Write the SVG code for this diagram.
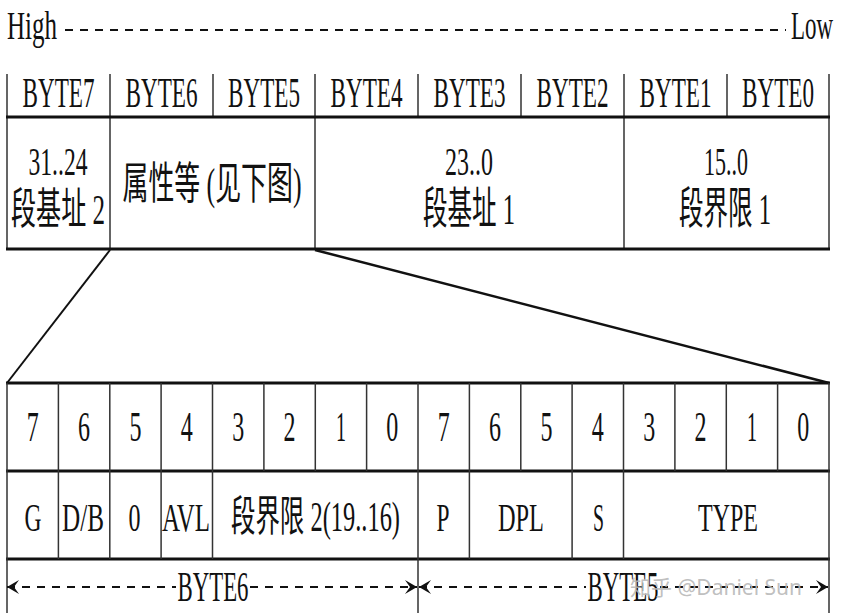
<svg xmlns="http://www.w3.org/2000/svg" width="842" height="616" viewBox="0 0 842 616">
<style>
.t{font-family:"Liberation Serif","Noto Sans CJK SC",serif;fill:#111;text-anchor:middle}
.l{text-anchor:start}
.v{stroke:#333;stroke-width:1.5;fill:none}
.b{stroke:#111;stroke-width:3;fill:none}
.d{stroke:#111;stroke-width:2;stroke-dasharray:8 7;fill:none}
.wm{font-family:"Noto Sans","Noto Sans CJK SC",sans-serif;font-size:21px;fill:#b8b8b8;fill-opacity:0.9}
</style>
<defs>
<marker id="ah" viewBox="-13 -8 14 16" refX="0" refY="0" markerWidth="14" markerHeight="16" markerUnits="userSpaceOnUse" orient="auto-start-reverse">
<path d="M0,0 L-12,-7 L-7,0 L-12,7 Z" fill="#111"/>
</marker>
</defs>
<rect width="842" height="616" fill="#fff"/>

<g id="direction">
<text class="t l" x="7" y="39" font-size="40" textLength="50" lengthAdjust="spacingAndGlyphs">High</text>
<text class="t l" x="791" y="39" font-size="40" textLength="42" lengthAdjust="spacingAndGlyphs">Low</text>
<line class="d" x1="65" y1="30" x2="786" y2="30"/>
</g>

<g id="descriptor-header">
<path class="v" d="M7,74V117 M110,74V117 M213,74V117 M315,74V117 M418,74V117 M521,74V117 M624,74V117 M727,74V117 M829,74V117"/>
<text class="t" x="58.5" y="107" font-size="42" textLength="72" lengthAdjust="spacingAndGlyphs">BYTE7</text>
<text class="t" x="161.5" y="107" font-size="42" textLength="72" lengthAdjust="spacingAndGlyphs">BYTE6</text>
<text class="t" x="264" y="107" font-size="42" textLength="72" lengthAdjust="spacingAndGlyphs">BYTE5</text>
<text class="t" x="366.5" y="107" font-size="42" textLength="72" lengthAdjust="spacingAndGlyphs">BYTE4</text>
<text class="t" x="469.5" y="107" font-size="42" textLength="72" lengthAdjust="spacingAndGlyphs">BYTE3</text>
<text class="t" x="572.5" y="107" font-size="42" textLength="72" lengthAdjust="spacingAndGlyphs">BYTE2</text>
<text class="t" x="675.5" y="107" font-size="42" textLength="72" lengthAdjust="spacingAndGlyphs">BYTE1</text>
<text class="t" x="778" y="107" font-size="42" textLength="72" lengthAdjust="spacingAndGlyphs">BYTE0</text>
</g>

<g id="descriptor-fields">
<path class="v" d="M7,117V249 M110,117V249 M315,117V249 M624,117V249 M829,117V249"/>
<line class="b" x1="6" y1="117" x2="830" y2="117"/>
<line class="b" x1="6" y1="249" x2="830" y2="249"/>
<text class="t" x="58" y="175" font-size="39" textLength="59" lengthAdjust="spacingAndGlyphs">31..24</text>
<text class="t" x="58" y="224" font-size="43" textLength="94" lengthAdjust="spacingAndGlyphs">段基址 2</text>
<text class="t" x="212" y="199" font-size="44" textLength="179" lengthAdjust="spacingAndGlyphs">属性等 (见下图)</text>
<text class="t" x="469" y="175" font-size="41" textLength="48" lengthAdjust="spacingAndGlyphs">23..0</text>
<text class="t" x="469" y="224" font-size="44" textLength="92" lengthAdjust="spacingAndGlyphs">段基址 1</text>
<text class="t" x="726" y="175" font-size="41" textLength="44" lengthAdjust="spacingAndGlyphs">15..0</text>
<text class="t" x="725" y="224" font-size="44" textLength="92" lengthAdjust="spacingAndGlyphs">段界限 1</text>
</g>

<g id="connectors">
<line x1="110" y1="250" x2="7" y2="383" stroke="#111" stroke-width="2"/>
<line x1="315" y1="250" x2="829" y2="383" stroke="#111" stroke-width="2.5"/>
</g>

<g id="attribute-bits">
<line class="b" x1="6" y1="383" x2="830" y2="383"/>
<line class="b" x1="6" y1="471" x2="830" y2="471"/>
<path class="v" d="M7,383V471 M58.4,383V471 M109.8,383V471 M161.1,383V471 M212.5,383V471 M263.9,383V471 M315.3,383V471 M366.6,383V471 M418,383V471 M469.4,383V471 M520.8,383V471 M572.1,383V471 M623.5,383V471 M674.9,383V471 M726.3,383V471 M777.6,383V471 M829,383V471"/>
<text class="t" x="32.7" y="441" font-size="43" textLength="12" lengthAdjust="spacingAndGlyphs">7</text>
<text class="t" x="84.1" y="441" font-size="43" textLength="12" lengthAdjust="spacingAndGlyphs">6</text>
<text class="t" x="135.4" y="441" font-size="43" textLength="12" lengthAdjust="spacingAndGlyphs">5</text>
<text class="t" x="186.8" y="441" font-size="43" textLength="12" lengthAdjust="spacingAndGlyphs">4</text>
<text class="t" x="238.2" y="441" font-size="43" textLength="12" lengthAdjust="spacingAndGlyphs">3</text>
<text class="t" x="289.6" y="441" font-size="43" textLength="12" lengthAdjust="spacingAndGlyphs">2</text>
<text class="t" x="341" y="441" font-size="43" textLength="10" lengthAdjust="spacingAndGlyphs">1</text>
<text class="t" x="392.3" y="441" font-size="43" textLength="12" lengthAdjust="spacingAndGlyphs">0</text>
<text class="t" x="443.7" y="441" font-size="43" textLength="12" lengthAdjust="spacingAndGlyphs">7</text>
<text class="t" x="495" y="441" font-size="43" textLength="12" lengthAdjust="spacingAndGlyphs">6</text>
<text class="t" x="546.4" y="441" font-size="43" textLength="12" lengthAdjust="spacingAndGlyphs">5</text>
<text class="t" x="597.8" y="441" font-size="43" textLength="12" lengthAdjust="spacingAndGlyphs">4</text>
<text class="t" x="649.2" y="441" font-size="43" textLength="12" lengthAdjust="spacingAndGlyphs">3</text>
<text class="t" x="700.6" y="441" font-size="43" textLength="12" lengthAdjust="spacingAndGlyphs">2</text>
<text class="t" x="752" y="441" font-size="43" textLength="10" lengthAdjust="spacingAndGlyphs">1</text>
<text class="t" x="803.3" y="441" font-size="43" textLength="12" lengthAdjust="spacingAndGlyphs">0</text>
</g>

<g id="attribute-fields">
<line class="b" x1="6" y1="559" x2="830" y2="559"/>
<path class="v" d="M7,471V613 M58.4,471V559 M109.8,471V559 M161.1,471V559 M212.5,471V559 M418,471V613 M469.4,471V559 M572.1,471V559 M623.5,471V559 M829,471V613"/>
<text class="t" x="33" y="531" font-size="41" textLength="17" lengthAdjust="spacingAndGlyphs">G</text>
<text class="t" x="83" y="531" font-size="41" textLength="42" lengthAdjust="spacingAndGlyphs">D/B</text>
<text class="t" x="134.5" y="531" font-size="41" textLength="12" lengthAdjust="spacingAndGlyphs">0</text>
<text class="t" x="186" y="531" font-size="41" textLength="48" lengthAdjust="spacingAndGlyphs">AVL</text>
<text class="t" x="315.5" y="531" font-size="42" textLength="169" lengthAdjust="spacingAndGlyphs">段界限 2(19..16)</text>
<text class="t" x="443" y="531" font-size="41" textLength="13" lengthAdjust="spacingAndGlyphs">P</text>
<text class="t" x="521" y="531" font-size="41" textLength="46" lengthAdjust="spacingAndGlyphs">DPL</text>
<text class="t" x="598.5" y="531" font-size="41" textLength="11" lengthAdjust="spacingAndGlyphs">S</text>
<text class="t" x="728" y="531" font-size="41" textLength="60" lengthAdjust="spacingAndGlyphs">TYPE</text>
</g>

<g id="byte-spans">
<path class="d" d="M7,587H176 M250,587H417" marker-start="url(#ah)" marker-end="url(#ah)"/>
<path class="d" d="M419,587H586 M660,587H828" marker-start="url(#ah)" marker-end="url(#ah)"/>
<text class="t" x="213" y="601" font-size="43" textLength="71" lengthAdjust="spacingAndGlyphs">BYTE6</text>
<text class="t" x="623" y="601" font-size="43" textLength="71" lengthAdjust="spacingAndGlyphs">BYTE5</text>
</g>

<g id="watermark">
<text class="wm" x="630" y="595">知乎 @Daniel Sun</text>
</g>
</svg>
